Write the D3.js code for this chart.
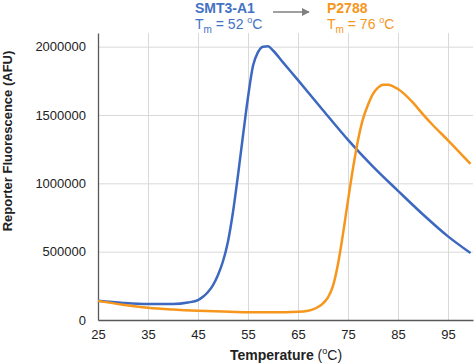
<!DOCTYPE html>
<html lang="en">
<head>
    <meta charset="utf-8">
    <title>Melt curves</title>
    <style>
        body { margin: 0; background: #ffffff; }
        svg text { font-family: 'Liberation Sans', Arial, sans-serif; }
        .grid line { stroke: #d9d9d9; stroke-width: 1; }
        .tick text { font-size: 13px; fill: #222; }
    </style>
    <script src="https://d3js.org/d3.v7.min.js" charset="utf-8"></script>
</head>
<body>
    <svg id="chart" width="474" height="363"></svg>

    <script type="text/javascript">
    // temperature (C) and reporter fluorescence (AFU)
    var smt3Temp = [25, 30, 35, 40, 43, 45, 46, 47, 48, 49, 50, 51, 52, 53, 54, 55, 56, 57, 58, 59, 60, 62, 65, 70, 75, 80, 85, 90, 95, 99.5];
    var smt3Val  = [140000, 125000, 117000, 117000, 128000, 146000, 170000, 205000, 256000, 330000, 430000, 575000, 790000, 1060000, 1350000, 1630000, 1860000, 1960000, 2000000, 2003000, 1972000, 1885000, 1755000, 1535000, 1318000, 1122000, 945000, 772000, 612000, 490000];

    var p2788Temp = [25, 30, 35, 40, 45, 50, 55, 60, 65, 67, 68, 69, 70, 71, 72, 73, 74, 75, 76, 77, 78, 79, 80, 81, 82, 83, 84, 85, 86, 88, 90, 92, 95, 99.5];
    var p2788Val  = [140000, 112000, 90000, 77000, 68000, 62000, 57000, 56000, 60000, 68000, 78000, 95000, 122000, 165000, 250000, 410000, 630000, 875000, 1110000, 1316000, 1472000, 1575000, 1655000, 1700000, 1722000, 1722000, 1710000, 1690000, 1662000, 1590000, 1505000, 1425000, 1315000, 1142000];

    var xTicks = [25, 35, 45, 55, 65, 75, 85, 95];
    var yTicks = [0, 500000, 1000000, 1500000, 2000000];

    var blue = "#3d68bf";
    var orange = "#f6961d";

    var svg = d3.select("#chart");
    var mLeft = 98, mRight = 473, mTop = 33, mBottom = 320;

    var x = d3.scaleLinear().domain([25, 100]).range([mLeft, mRight]);
    var y = d3.scaleLinear().domain([0, 2100000]).range([mBottom, mTop]);

    // grid
    svg.append("g").attr("class", "grid")
        .attr("transform", "translate(0," + mBottom + ")")
        .call(d3.axisBottom(x).tickValues(xTicks.slice(1)).tickSize(-(mBottom - mTop)).tickFormat(""))
        .call(g => g.select(".domain").remove());
    svg.append("g").attr("class", "grid")
        .attr("transform", "translate(" + mLeft + ",0)")
        .call(d3.axisLeft(y).tickValues(yTicks.slice(1)).tickSize(-(mRight - mLeft)).tickFormat(""))
        .call(g => g.select(".domain").remove());

    // axes
    var xAxis = svg.append("g")
        .attr("transform", "translate(0," + mBottom + ")")
        .call(d3.axisBottom(x).tickValues(xTicks).tickSize(0).tickPadding(10).tickFormat(d3.format("d")));
    xAxis.select(".domain").attr("stroke", "#595959").attr("stroke-width", 1.3);

    var yAxis = svg.append("g")
        .attr("transform", "translate(" + mLeft + ",0)")
        .call(d3.axisLeft(y).tickValues(yTicks).tickSize(0).tickPadding(12).tickFormat(d3.format("d")));
    yAxis.select(".domain").attr("stroke", "#595959").attr("stroke-width", 1.3);

    // curves
    var line = d3.line()
        .x(d => x(d[0]))
        .y(d => y(d[1]))
        .curve(d3.curveMonotoneX);

    svg.append("path")
        .attr("d", line(d3.zip(smt3Temp, smt3Val)))
        .attr("fill", "none").attr("stroke", blue).attr("stroke-width", 2.5);
    svg.append("path")
        .attr("d", line(d3.zip(p2788Temp, p2788Val)))
        .attr("fill", "none").attr("stroke", orange).attr("stroke-width", 2.5);

    // axis titles
    svg.append("text")
        .attr("transform", "translate(12,141) rotate(-90)")
        .attr("text-anchor", "middle")
        .attr("font-size", 13).attr("font-weight", "bold").attr("fill", "#222")
        .text("Reporter Fluorescence (AFU)");

    var xt = svg.append("text")
        .attr("x", 286).attr("y", 360)
        .attr("text-anchor", "middle")
        .attr("font-size", 14).attr("fill", "#222");
    xt.append("tspan").attr("font-weight", "bold").text("Temperature ");
    xt.append("tspan").text("(");
    xt.append("tspan").attr("font-size", 9).attr("dy", -6).text("o");
    xt.append("tspan").attr("dy", 6).text("C)");

    // annotations
    function label(x0, name, tm, color) {
        svg.append("text")
            .attr("x", x0).attr("y", 13)
            .attr("font-size", 14).attr("font-weight", "bold").attr("fill", color)
            .text(name);
        var t = svg.append("text")
            .attr("x", x0).attr("y", 29)
            .attr("font-size", 14).attr("fill", color);
        t.append("tspan").text("T");
        t.append("tspan").attr("font-size", 10).attr("dy", 4).text("m");
        t.append("tspan").attr("dy", -4).text(" = " + tm + " ");
        t.append("tspan").attr("font-size", 9).attr("dy", -6).text("o");
        t.append("tspan").attr("dy", 6).text("C");
    }
    label(195, "SMT3-A1", 52, "#4472c4");
    label(327, "P2788", 76, orange);

    svg.append("defs").append("marker")
        .attr("id", "head").attr("viewBox", "0 0 10 10")
        .attr("refX", 9).attr("refY", 5)
        .attr("markerWidth", 6).attr("markerHeight", 6)
        .attr("orient", "auto")
        .append("path").attr("d", "M0,0 L10,5 L0,10 z").attr("fill", "#808080");
    svg.append("line")
        .attr("x1", 273).attr("y1", 12).attr("x2", 309).attr("y2", 12)
        .attr("stroke", "#808080").attr("stroke-width", 1.3)
        .attr("marker-end", "url(#head)");
    </script>
</body>
</html>
